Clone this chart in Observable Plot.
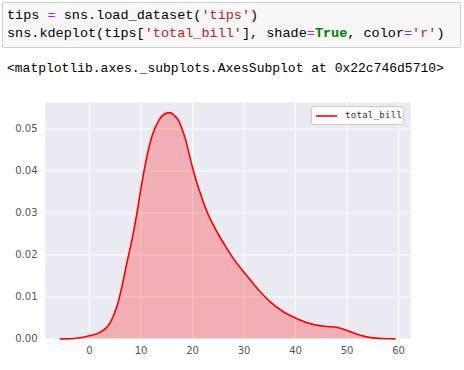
<!DOCTYPE html>
<html>
<head>
<meta charset="utf-8">
<script src="https://cdn.jsdelivr.net/npm/d3@7"></script>
<script src="https://cdn.jsdelivr.net/npm/@observablehq/plot@0.6"></script>
<style>
  html, body { margin: 0; padding: 0; background: #ffffff; width: 464px; height: 370px; overflow: hidden; position: relative; }
  .cell { position: absolute; left: 2px; top: 2px; width: 459px; height: 46px; background: #f7f7f7; border: 1px solid #cfcfcf; border-radius: 2px; box-sizing: border-box; }
  .line { position: absolute; left: 7px; font-family: "Liberation Mono", "DejaVu Sans Mono", monospace; font-size: 13.5px; line-height: 18px; height: 18px; color: #000; white-space: pre; }
  .line span { display: inline; }
  .kw { color: #008000; font-weight: bold; }
  .op { color: #AA22FF; }
  .st { color: #BA2121; }
  #chart { position: absolute; left: 0; top: 95px; }
  .legend { position: absolute; left: 311px; top: 106px; width: 93px; height: 19px; box-sizing: border-box; border: 1px solid #cccccc; border-radius: 3px; background: rgba(255,255,255,0.8); }
  .legend .sw { position: absolute; left: 4px; top: 8px; width: 21px; height: 2px; background: #ff3333; }
  .legend .lt { position: absolute; left: 33px; top: 2px; font-family: "DejaVu Sans Mono", monospace; font-size: 9px; line-height: 13px; color: #333; letter-spacing: 0.3px; }
</style>
</head>
<body>
<div class="cell"></div>
<div class="line" style="top:7px"><span>tips </span><span class="op">=</span><span> sns.load_dataset(</span><span class="st">'tips'</span><span>)</span></div>
<div class="line" style="top:25px"><span>sns.kdeplot(tips[</span><span class="st">'total_bill'</span><span>], shade</span><span class="op">=</span><span class="kw">True</span><span>, color</span><span class="op">=</span><span class="st">'r'</span><span>)</span></div>
<div class="line" style="top:60px; font-size:13px"><span>&lt;matplotlib.axes._subplots.AxesSubplot at 0x22c746d5710&gt;</span></div>
<div id="chart"></div>
<div class="legend"><div class="sw"></div><div class="lt">total_bill</div></div>
<script>
// total_bill values (x) and estimated KDE densities (y)
const bills = [-5.6, -3.0, 0.2, 2.1, 4.1, 5.4, 6.35, 7.3, 8.3, 9.25, 10.2, 11.2, 12.2, 13.5, 14.5, 15.6, 16.5, 17.3, 18.6, 19.9, 21.2, 22.85, 24.8, 26.7, 28.0, 30.0, 32.6, 35.1, 37.7, 40.3, 42.9, 45.5, 48.1, 50.0, 52.0, 54.6, 56.8, 59.3];
const densities = [0.0000, 0.0001, 0.0008, 0.0016, 0.0040, 0.0080, 0.0127, 0.0183, 0.0239, 0.0302, 0.0373, 0.0437, 0.0485, 0.0521, 0.0535, 0.0539, 0.0532, 0.0520, 0.0477, 0.0413, 0.0358, 0.0302, 0.0254, 0.0215, 0.0190, 0.0159, 0.0120, 0.0088, 0.0064, 0.0048, 0.0036, 0.0030, 0.0027, 0.0020, 0.0011, 0.0003, 0.0001, 0.0000];
const xTicks = [0, 10, 20, 30, 40, 50, 60];
const yTicks = [0, 0.01, 0.02, 0.03, 0.04, 0.05];
const seriesName = "total_bill";

const data = bills.map((x, i) => ({x, y: densities[i], series: seriesName}));

const chart = Plot.plot({
  width: 464,
  height: 270,
  marginTop: 7,
  marginBottom: 26.6,
  marginLeft: 45,
  marginRight: 54,
  x: {domain: [-8.54, 62.33]},
  y: {domain: [0, 0.0563]},
  style: {fontFamily: "DejaVu Sans, sans-serif", fontSize: "10px", color: "#555", background: "transparent"},
  marks: [
    Plot.frame({fill: "#EAEAF2", stroke: "none"}),
    Plot.gridX(xTicks, {stroke: "white", strokeOpacity: 1, strokeWidth: 1}),
    Plot.gridY(yTicks, {stroke: "white", strokeOpacity: 1, strokeWidth: 1}),
    Plot.areaY(data, {x: "x", y: "y", fill: "red", fillOpacity: 0.25, curve: "monotone-x"}),
    Plot.lineY(data, {x: "x", y: "y", stroke: "red", strokeWidth: 1.6, curve: "monotone-x"}),
    Plot.axisX(xTicks, {tickSize: 0, tickPadding: 8, label: null}),
    Plot.axisY(yTicks, {tickSize: 0, tickPadding: 8, tickFormat: d3.format(".2f"), label: null})
  ]
});
document.getElementById("chart").appendChild(chart);
</script>
</body>
</html>
